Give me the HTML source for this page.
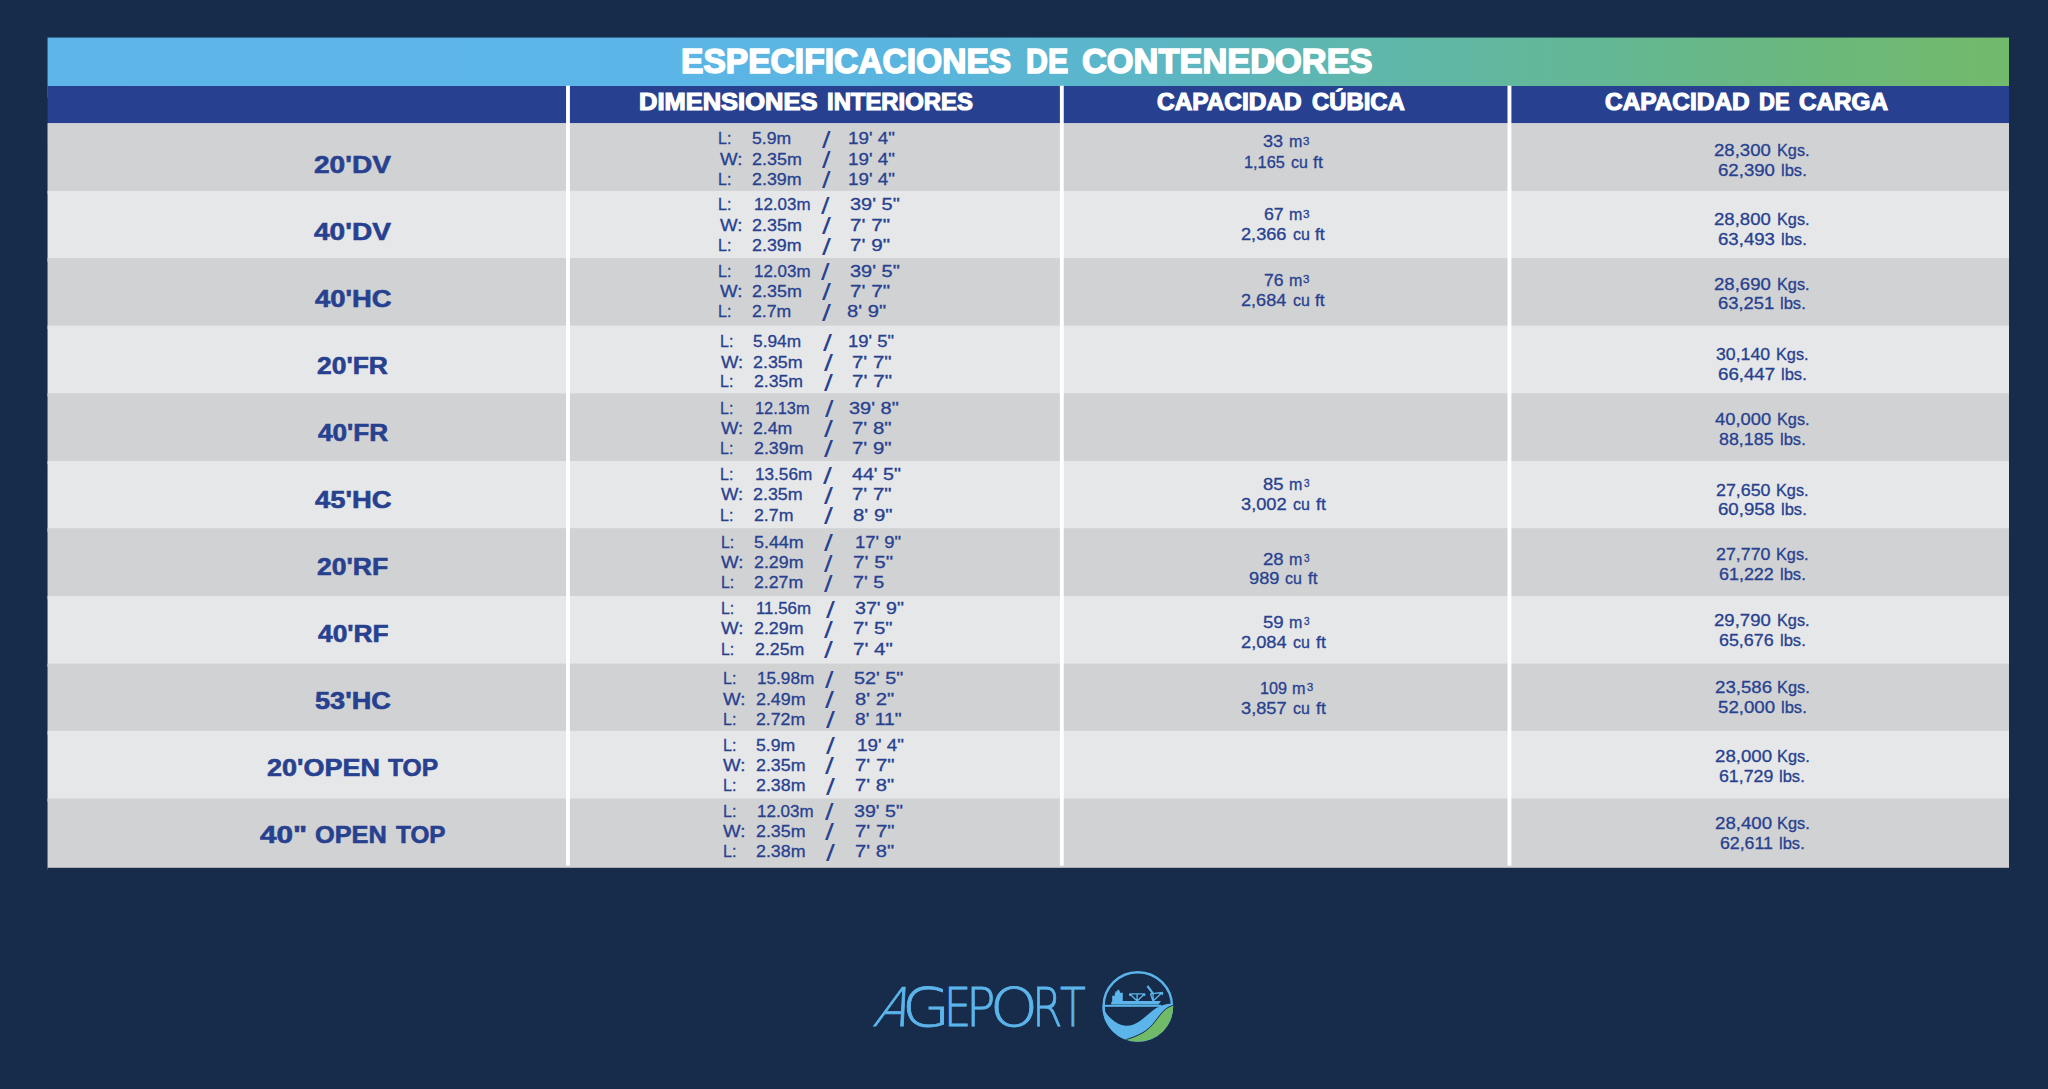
<!DOCTYPE html>
<html lang="es">
<head>
<meta charset="utf-8">
<title>Especificaciones de Contenedores - AGEPORT</title>
<style>
html,body{margin:0;padding:0;background:#172b4b;}
body{width:2048px;height:1089px;overflow:hidden;font-family:"Liberation Sans",sans-serif;}
#stage{position:relative;width:2048px;height:1089px;background:#172b4b;overflow:hidden;}
#tbl{position:absolute;left:0;top:0;width:2048px;height:1089px;clip-path:polygon(47.55px 0,2009px 0,2009px 1089px,47.55px 1089px);}
.titlebar{position:absolute;left:47px;width:1962px;height:60px;
 background:linear-gradient(90deg,#5db5ea 0%,#5cb5e8 30%,#59b5de 44%,#5ab6d2 50%,#5db6bd 60%,#60b7a6 70%,#64b793 80%,#6bb87c 90%,#72ba6b 100%);}
.headbar{position:absolute;left:47px;width:1962px;height:60px;background:#274190;}
.row{position:absolute;left:47px;width:1962px;height:71px;}
.tblend{background:#172b4b;height:221px;}
.ra{background:#d1d2d4;}
.rb{background:#e6e7e8;}
.vline{position:absolute;top:85px;height:780px;background:#ffffff;transform-origin:0 0;}
#stage span{position:absolute;white-space:pre;line-height:1;transform-origin:0 0;display:block;}
.title{color:#ffffff;font-weight:bold;-webkit-text-stroke:1.6px #ffffff;}
.hd{color:#ffffff;font-weight:bold;-webkit-text-stroke:1.2px #ffffff;}
.lab{color:#28418f;font-weight:bold;-webkit-text-stroke:0.6px #28418f;}
.d,.sup{color:#28418f;-webkit-text-stroke:0.3px #28418f;}
.sl{color:#28418f;}
#logo{position:absolute;left:0;top:940px;}
.brand{position:absolute;white-space:nowrap;line-height:1;font-family:"DejaVu Sans","Liberation Sans",sans-serif;font-weight:200;color:#5cb5ea;-webkit-text-stroke:0.8px #5cb5ea;}
#stage .brand span{position:static;display:inline-block;transform-origin:0 0;white-space:pre;line-height:1;}
</style>
</head>
<body>
<div id="stage">
<div id="tbl">
<div class="titlebar" style="top:37px;transform:translateY(0.55px)"></div>
<div class="headbar" style="top:86px;transform:translateY(0.00px)"></div>
<div class="row ra" style="top:123px;transform:translateY(0.05px)"></div>
<div class="row rb" style="top:190px;transform:translateY(0.90px)"></div>
<div class="row ra" style="top:258px;transform:translateY(0.10px)"></div>
<div class="row rb" style="top:325px;transform:translateY(0.60px)"></div>
<div class="row ra" style="top:393px;transform:translateY(0.30px)"></div>
<div class="row rb" style="top:461px;transform:translateY(0.00px)"></div>
<div class="row ra" style="top:528px;transform:translateY(0.20px)"></div>
<div class="row rb" style="top:596px;transform:translateY(0.00px)"></div>
<div class="row ra" style="top:663px;transform:translateY(0.60px)"></div>
<div class="row rb" style="top:730px;transform:translateY(0.90px)"></div>
<div class="row ra" style="top:798px;transform:translateY(0.50px)"></div>
<div class="row tblend" style="top:867px;transform:translateY(0.80px)"></div>
</div>
<div class="vline" style="left:566px;width:4px;transform:translate(0.05px,0.7px) scaleX(0.9625)"></div>
<div class="vline" style="left:1059px;width:5px;transform:translate(0.90px,0.7px) scaleX(0.7700)"></div>
<div class="vline" style="left:1507px;width:5px;transform:translate(0.50px,0.7px) scaleX(0.7800)"></div>
<div class="grp"><span class="title" style="left:681.08px;top:43px;font-size:35.2px;transform:scaleX(0.9542)">ESPECIFICACIONES</span> <span class="title" style="left:1025.88px;top:43px;font-size:35.2px;transform:scaleX(0.8618)">DE</span> <span class="title" style="left:1082.02px;top:43px;font-size:35.2px;transform:scaleX(0.9777)">CONTENEDORES</span></div>
<div class="grp"><span class="hd" style="left:638.67px;top:90px;font-size:23.98px;transform:scaleX(1.0631)">DIMENSIONES</span> <span class="hd" style="left:827.07px;top:90px;font-size:23.98px;transform:scaleX(0.9956)">INTERIORES</span></div>
<div class="grp"><span class="hd" style="left:1157.06px;top:90px;font-size:23.98px;transform:scaleX(1.0185)">CAPACIDAD</span> <span class="hd" style="left:1312.09px;top:90px;font-size:23.98px;transform:scaleX(0.9958)">CÚBICA</span></div>
<div class="grp"><span class="hd" style="left:1604.82px;top:90px;font-size:23.98px;transform:scaleX(1.0187)">CAPACIDAD</span> <span class="hd" style="left:1759.12px;top:90px;font-size:23.98px;transform:scaleX(0.9172)">DE</span> <span class="hd" style="left:1799.03px;top:90px;font-size:23.98px;transform:scaleX(1.0124)">CARGA</span></div>
<span class="lab" style="left:314.44px;top:153px;font-size:23.98px;transform:scaleX(1.1708)">20'DV</span>
<span class="lab" style="left:314.12px;top:220px;font-size:23.98px;transform:scaleX(1.1706)">40'DV</span>
<span class="lab" style="left:314.59px;top:287px;font-size:23.98px;transform:scaleX(1.1423)">40'HC</span>
<span class="lab" style="left:317.06px;top:354px;font-size:23.98px;transform:scaleX(1.1019)">20'FR</span>
<span class="lab" style="left:317.74px;top:421px;font-size:23.98px;transform:scaleX(1.0908)">40'FR</span>
<span class="lab" style="left:314.58px;top:488px;font-size:23.98px;transform:scaleX(1.1424)">45'HC</span>
<span class="lab" style="left:317.04px;top:555px;font-size:23.98px;transform:scaleX(1.1052)">20'RF</span>
<span class="lab" style="left:317.74px;top:622px;font-size:23.98px;transform:scaleX(1.0985)">40'RF</span>
<span class="lab" style="left:314.88px;top:689px;font-size:23.98px;transform:scaleX(1.1329)">53'HC</span>
<div class="grp"><span class="lab" style="left:267.18px;top:756px;font-size:23.98px;transform:scaleX(1.1255)">20'OPEN</span> <span class="lab" style="left:388.25px;top:756px;font-size:23.98px;transform:scaleX(1.0291)">TOP</span></div>
<div class="grp"><span class="lab" style="left:260.30px;top:823px;font-size:23.98px;transform:scaleX(1.2409)">40"</span> <span class="lab" style="left:315.39px;top:823px;font-size:23.98px;transform:scaleX(1.0563)">OPEN</span> <span class="lab" style="left:395.66px;top:823px;font-size:23.98px;transform:scaleX(1.0130)">TOP</span></div>
<div class="grp"><span class="d" style="left:718.29px;top:130px;font-size:16.42px;transform:scaleX(0.9748)">L:</span> <span class="d" style="left:752.04px;top:130px;font-size:16.42px;transform:scaleX(1.0732)">5.9m</span> <span class="sl" style="left:822.13px;top:129px;font-size:23.03px;transform:scaleX(1.3337)">/</span> <span class="d" style="left:847.64px;top:130px;font-size:16.42px;transform:scaleX(1.1453)">19' 4"</span></div>
<div class="grp"><span class="d" style="left:719.63px;top:151px;font-size:16.42px;transform:scaleX(1.1375)">W:</span> <span class="d" style="left:751.59px;top:151px;font-size:16.42px;transform:scaleX(1.0941)">2.35m</span> <span class="sl" style="left:821.75px;top:149px;font-size:23.03px;transform:scaleX(1.3337)">/</span> <span class="d" style="left:847.64px;top:151px;font-size:16.42px;transform:scaleX(1.1453)">19' 4"</span></div>
<div class="grp"><span class="d" style="left:718.29px;top:171px;font-size:16.42px;transform:scaleX(0.9748)">L:</span> <span class="d" style="left:751.85px;top:171px;font-size:16.42px;transform:scaleX(1.0882)">2.39m</span> <span class="sl" style="left:822.13px;top:169px;font-size:23.03px;transform:scaleX(1.3337)">/</span> <span class="d" style="left:847.64px;top:171px;font-size:16.42px;transform:scaleX(1.1453)">19' 4"</span></div>
<div class="grp"><span class="d" style="left:718.29px;top:196px;font-size:16.42px;transform:scaleX(0.9752)">L:</span> <span class="d" style="left:753.87px;top:196px;font-size:16.42px;transform:scaleX(1.0331)">12.03m</span> <span class="sl" style="left:821.11px;top:195px;font-size:23.03px;transform:scaleX(1.3337)">/</span> <span class="d" style="left:850.22px;top:196px;font-size:16.42px;transform:scaleX(1.2180)">39' 5"</span></div>
<div class="grp"><span class="d" style="left:719.64px;top:217px;font-size:16.42px;transform:scaleX(1.1375)">W:</span> <span class="d" style="left:751.59px;top:217px;font-size:16.42px;transform:scaleX(1.0941)">2.35m</span> <span class="sl" style="left:821.94px;top:215px;font-size:23.03px;transform:scaleX(1.3968)">/</span> <span class="d" style="left:850.43px;top:217px;font-size:16.42px;transform:scaleX(1.2588)">7' 7"</span></div>
<div class="grp"><span class="d" style="left:718.29px;top:237px;font-size:16.42px;transform:scaleX(0.9752)">L:</span> <span class="d" style="left:751.85px;top:237px;font-size:16.42px;transform:scaleX(1.0882)">2.39m</span> <span class="sl" style="left:821.94px;top:236px;font-size:23.03px;transform:scaleX(1.3968)">/</span> <span class="d" style="left:850.43px;top:237px;font-size:16.42px;transform:scaleX(1.2588)">7' 9"</span></div>
<div class="grp"><span class="d" style="left:718.29px;top:263px;font-size:16.42px;transform:scaleX(0.9748)">L:</span> <span class="d" style="left:753.87px;top:263px;font-size:16.42px;transform:scaleX(1.0331)">12.03m</span> <span class="sl" style="left:821.11px;top:261px;font-size:23.03px;transform:scaleX(1.3337)">/</span> <span class="d" style="left:850.22px;top:263px;font-size:16.42px;transform:scaleX(1.2180)">39' 5"</span></div>
<div class="grp"><span class="d" style="left:719.63px;top:283px;font-size:16.42px;transform:scaleX(1.1375)">W:</span> <span class="d" style="left:751.59px;top:283px;font-size:16.42px;transform:scaleX(1.0941)">2.35m</span> <span class="sl" style="left:821.94px;top:281px;font-size:23.03px;transform:scaleX(1.3962)">/</span> <span class="d" style="left:850.43px;top:283px;font-size:16.42px;transform:scaleX(1.2588)">7' 7"</span></div>
<div class="grp"><span class="d" style="left:718.29px;top:303px;font-size:16.42px;transform:scaleX(0.9748)">L:</span> <span class="d" style="left:751.86px;top:303px;font-size:16.42px;transform:scaleX(1.0783)">2.7m</span> <span class="sl" style="left:821.94px;top:302px;font-size:23.03px;transform:scaleX(1.3962)">/</span> <span class="d" style="left:846.80px;top:303px;font-size:16.42px;transform:scaleX(1.2310)">8' 9"</span></div>
<div class="grp"><span class="d" style="left:720.10px;top:333px;font-size:16.42px;transform:scaleX(0.9752)">L:</span> <span class="d" style="left:753.34px;top:333px;font-size:16.42px;transform:scaleX(1.0549)">5.94m</span> <span class="sl" style="left:822.55px;top:332px;font-size:23.03px;transform:scaleX(1.3993)">/</span> <span class="d" style="left:848.24px;top:333px;font-size:16.42px;transform:scaleX(1.1236)">19' 5"</span></div>
<div class="grp"><span class="d" style="left:721.00px;top:354px;font-size:16.42px;transform:scaleX(1.1244)">W:</span> <span class="d" style="left:753.14px;top:354px;font-size:16.42px;transform:scaleX(1.0882)">2.35m</span> <span class="sl" style="left:823.67px;top:352px;font-size:23.03px;transform:scaleX(1.3993)">/</span> <span class="d" style="left:852.11px;top:354px;font-size:16.42px;transform:scaleX(1.2461)">7' 7"</span></div>
<div class="grp"><span class="d" style="left:720.10px;top:373px;font-size:16.42px;transform:scaleX(0.9752)">L:</span> <span class="d" style="left:753.76px;top:373px;font-size:16.42px;transform:scaleX(1.0759)">2.35m</span> <span class="sl" style="left:824.44px;top:372px;font-size:23.03px;transform:scaleX(1.3876)">/</span> <span class="d" style="left:852.36px;top:373px;font-size:16.42px;transform:scaleX(1.2588)">7' 7"</span></div>
<div class="grp"><span class="d" style="left:720.10px;top:400px;font-size:16.42px;transform:scaleX(0.9748)">L:</span> <span class="d" style="left:755.20px;top:400px;font-size:16.42px;transform:scaleX(0.9965)">12.13m</span> <span class="sl" style="left:824.96px;top:398px;font-size:23.03px;transform:scaleX(1.3337)">/</span> <span class="d" style="left:848.93px;top:400px;font-size:16.42px;transform:scaleX(1.2180)">39' 8"</span></div>
<div class="grp"><span class="d" style="left:721.00px;top:420px;font-size:16.42px;transform:scaleX(1.1244)">W:</span> <span class="d" style="left:753.15px;top:420px;font-size:16.42px;transform:scaleX(1.0783)">2.4m</span> <span class="sl" style="left:823.67px;top:418px;font-size:23.03px;transform:scaleX(1.3981)">/</span> <span class="d" style="left:852.11px;top:420px;font-size:16.42px;transform:scaleX(1.2461)">7' 8"</span></div>
<div class="grp"><span class="d" style="left:720.10px;top:440px;font-size:16.42px;transform:scaleX(0.9748)">L:</span> <span class="d" style="left:753.73px;top:440px;font-size:16.42px;transform:scaleX(1.0852)">2.39m</span> <span class="sl" style="left:823.67px;top:438px;font-size:23.03px;transform:scaleX(1.3981)">/</span> <span class="d" style="left:852.11px;top:440px;font-size:16.42px;transform:scaleX(1.2461)">7' 9"</span></div>
<div class="grp"><span class="d" style="left:720.10px;top:466px;font-size:16.42px;transform:scaleX(0.9752)">L:</span> <span class="d" style="left:755.14px;top:466px;font-size:16.42px;transform:scaleX(1.0454)">13.56m</span> <span class="sl" style="left:822.55px;top:465px;font-size:23.03px;transform:scaleX(1.3993)">/</span> <span class="d" style="left:852.35px;top:466px;font-size:16.42px;transform:scaleX(1.1969)">44' 5"</span></div>
<div class="grp"><span class="d" style="left:721.00px;top:486px;font-size:16.42px;transform:scaleX(1.1244)">W:</span> <span class="d" style="left:753.14px;top:486px;font-size:16.42px;transform:scaleX(1.0882)">2.35m</span> <span class="sl" style="left:823.67px;top:485px;font-size:23.03px;transform:scaleX(1.3993)">/</span> <span class="d" style="left:852.11px;top:486px;font-size:16.42px;transform:scaleX(1.2461)">7' 7"</span></div>
<div class="grp"><span class="d" style="left:720.10px;top:507px;font-size:16.42px;transform:scaleX(0.9752)">L:</span> <span class="d" style="left:753.73px;top:507px;font-size:16.42px;transform:scaleX(1.0815)">2.7m</span> <span class="sl" style="left:823.67px;top:505px;font-size:23.03px;transform:scaleX(1.3993)">/</span> <span class="d" style="left:852.83px;top:507px;font-size:16.42px;transform:scaleX(1.2436)">8' 9"</span></div>
<div class="grp"><span class="d" style="left:720.75px;top:534px;font-size:16.42px;transform:scaleX(0.9691)">L:</span> <span class="d" style="left:754.34px;top:534px;font-size:16.42px;transform:scaleX(1.0900)">5.44m</span> <span class="sl" style="left:824.44px;top:532px;font-size:23.03px;transform:scaleX(1.3873)">/</span> <span class="d" style="left:855.31px;top:534px;font-size:16.42px;transform:scaleX(1.1236)">17' 9"</span></div>
<div class="grp"><span class="d" style="left:721.34px;top:554px;font-size:16.42px;transform:scaleX(1.1375)">W:</span> <span class="d" style="left:753.91px;top:554px;font-size:16.42px;transform:scaleX(1.0853)">2.29m</span> <span class="sl" style="left:823.93px;top:553px;font-size:23.03px;transform:scaleX(1.3337)">/</span> <span class="d" style="left:852.61px;top:554px;font-size:16.42px;transform:scaleX(1.2588)">7' 5"</span></div>
<div class="grp"><span class="d" style="left:720.75px;top:574px;font-size:16.42px;transform:scaleX(0.9691)">L:</span> <span class="d" style="left:754.17px;top:574px;font-size:16.42px;transform:scaleX(1.0794)">2.27m</span> <span class="sl" style="left:823.93px;top:573px;font-size:23.03px;transform:scaleX(1.3337)">/</span> <span class="d" style="left:852.65px;top:574px;font-size:16.42px;transform:scaleX(1.2079)">7' 5</span></div>
<div class="grp"><span class="d" style="left:720.75px;top:600px;font-size:16.42px;transform:scaleX(0.9691)">L:</span> <span class="d" style="left:755.81px;top:600px;font-size:16.42px;transform:scaleX(1.0276)">11.56m</span> <span class="sl" style="left:826.31px;top:599px;font-size:23.03px;transform:scaleX(1.3876)">/</span> <span class="d" style="left:855.44px;top:600px;font-size:16.42px;transform:scaleX(1.1962)">37' 9"</span></div>
<div class="grp"><span class="d" style="left:721.34px;top:620px;font-size:16.42px;transform:scaleX(1.1375)">W:</span> <span class="d" style="left:753.91px;top:620px;font-size:16.42px;transform:scaleX(1.0853)">2.29m</span> <span class="sl" style="left:824.44px;top:619px;font-size:23.03px;transform:scaleX(1.3876)">/</span> <span class="d" style="left:853.01px;top:620px;font-size:16.42px;transform:scaleX(1.2461)">7' 5"</span></div>
<div class="grp"><span class="d" style="left:720.75px;top:641px;font-size:16.42px;transform:scaleX(0.9691)">L:</span> <span class="d" style="left:754.81px;top:641px;font-size:16.42px;transform:scaleX(1.0832)">2.25m</span> <span class="sl" style="left:824.44px;top:639px;font-size:23.03px;transform:scaleX(1.3876)">/</span> <span class="d" style="left:853.21px;top:641px;font-size:16.42px;transform:scaleX(1.2532)">7' 4"</span></div>
<div class="grp"><span class="d" style="left:722.60px;top:670px;font-size:16.42px;transform:scaleX(0.9838)">L:</span> <span class="d" style="left:757.07px;top:670px;font-size:16.42px;transform:scaleX(1.0454)">15.98m</span> <span class="sl" style="left:824.96px;top:669px;font-size:23.03px;transform:scaleX(1.3337)">/</span> <span class="d" style="left:853.88px;top:670px;font-size:16.42px;transform:scaleX(1.2068)">52' 5"</span></div>
<div class="grp"><span class="d" style="left:723.03px;top:691px;font-size:16.42px;transform:scaleX(1.1373)">W:</span> <span class="d" style="left:755.63px;top:691px;font-size:16.42px;transform:scaleX(1.0870)">2.49m</span> <span class="sl" style="left:825.48px;top:689px;font-size:23.03px;transform:scaleX(1.3962)">/</span> <span class="d" style="left:855.15px;top:691px;font-size:16.42px;transform:scaleX(1.2310)">8' 2"</span></div>
<div class="grp"><span class="d" style="left:722.60px;top:711px;font-size:16.42px;transform:scaleX(0.9838)">L:</span> <span class="d" style="left:755.84px;top:711px;font-size:16.42px;transform:scaleX(1.0794)">2.72m</span> <span class="sl" style="left:826.31px;top:709px;font-size:23.03px;transform:scaleX(1.3873)">/</span> <span class="d" style="left:855.30px;top:711px;font-size:16.42px;transform:scaleX(1.1741)">8' 11"</span></div>
<div class="grp"><span class="d" style="left:722.59px;top:737px;font-size:16.42px;transform:scaleX(0.9844)">L:</span> <span class="d" style="left:756.02px;top:737px;font-size:16.42px;transform:scaleX(1.0769)">5.9m</span> <span class="sl" style="left:826.31px;top:735px;font-size:23.03px;transform:scaleX(1.3876)">/</span> <span class="d" style="left:856.62px;top:737px;font-size:16.42px;transform:scaleX(1.1456)">19' 4"</span></div>
<div class="grp"><span class="d" style="left:723.03px;top:757px;font-size:16.42px;transform:scaleX(1.1372)">W:</span> <span class="d" style="left:755.63px;top:757px;font-size:16.42px;transform:scaleX(1.0871)">2.35m</span> <span class="sl" style="left:825.47px;top:755px;font-size:23.03px;transform:scaleX(1.3968)">/</span> <span class="d" style="left:854.68px;top:757px;font-size:16.42px;transform:scaleX(1.2461)">7' 7"</span></div>
<div class="grp"><span class="d" style="left:722.59px;top:777px;font-size:16.42px;transform:scaleX(0.9844)">L:</span> <span class="d" style="left:755.84px;top:777px;font-size:16.42px;transform:scaleX(1.0853)">2.38m</span> <span class="sl" style="left:826.31px;top:776px;font-size:23.03px;transform:scaleX(1.3876)">/</span> <span class="d" style="left:855.21px;top:777px;font-size:16.42px;transform:scaleX(1.2292)">7' 8"</span></div>
<div class="grp"><span class="d" style="left:722.60px;top:803px;font-size:16.42px;transform:scaleX(0.9838)">L:</span> <span class="d" style="left:757.34px;top:803px;font-size:16.42px;transform:scaleX(1.0356)">12.03m</span> <span class="sl" style="left:824.96px;top:801px;font-size:23.03px;transform:scaleX(1.3337)">/</span> <span class="d" style="left:854.34px;top:803px;font-size:16.42px;transform:scaleX(1.1954)">39' 5"</span></div>
<div class="grp"><span class="d" style="left:723.03px;top:823px;font-size:16.42px;transform:scaleX(1.1373)">W:</span> <span class="d" style="left:755.63px;top:823px;font-size:16.42px;transform:scaleX(1.0870)">2.35m</span> <span class="sl" style="left:825.48px;top:821px;font-size:23.03px;transform:scaleX(1.3962)">/</span> <span class="d" style="left:854.68px;top:823px;font-size:16.42px;transform:scaleX(1.2461)">7' 7"</span></div>
<div class="grp"><span class="d" style="left:722.60px;top:843px;font-size:16.42px;transform:scaleX(0.9838)">L:</span> <span class="d" style="left:755.84px;top:843px;font-size:16.42px;transform:scaleX(1.0853)">2.38m</span> <span class="sl" style="left:826.31px;top:842px;font-size:23.03px;transform:scaleX(1.3873)">/</span> <span class="d" style="left:855.21px;top:843px;font-size:16.42px;transform:scaleX(1.2292)">7' 8"</span></div>
<div class="grp"><span class="d" style="left:1263.27px;top:133px;font-size:16.42px;transform:scaleX(1.1045)">33</span> <span class="d" style="left:1289.09px;top:133px;font-size:16.42px;transform:scaleX(0.9779)">m</span><span class="sup" style="left:1303.10px;top:136px;font-size:10.95px;transform:scaleX(1.0539)">3</span></div>
<div class="grp"><span class="d" style="left:1243.81px;top:154px;font-size:16.42px;transform:scaleX(0.9937)">1,165</span> <span class="d" style="left:1290.71px;top:154px;font-size:16.42px;transform:scaleX(0.9744)">cu</span> <span class="d" style="left:1313.11px;top:154px;font-size:16.42px;transform:scaleX(1.0732)">ft</span></div>
<div class="grp"><span class="d" style="left:1263.86px;top:206px;font-size:16.42px;transform:scaleX(1.0788)">67</span> <span class="d" style="left:1289.09px;top:206px;font-size:16.42px;transform:scaleX(0.9779)">m</span><span class="sup" style="left:1303.08px;top:209px;font-size:10.95px;transform:scaleX(1.0715)">3</span></div>
<div class="grp"><span class="d" style="left:1241.14px;top:226px;font-size:16.42px;transform:scaleX(1.1065)">2,366</span> <span class="d" style="left:1292.61px;top:226px;font-size:16.42px;transform:scaleX(0.9744)">cu</span> <span class="d" style="left:1315.03px;top:226px;font-size:16.42px;transform:scaleX(1.0594)">ft</span></div>
<div class="grp"><span class="d" style="left:1263.87px;top:272px;font-size:16.42px;transform:scaleX(1.0683)">76</span> <span class="d" style="left:1289.09px;top:272px;font-size:16.42px;transform:scaleX(0.9779)">m</span><span class="sup" style="left:1303.10px;top:274px;font-size:10.95px;transform:scaleX(1.0539)">3</span></div>
<div class="grp"><span class="d" style="left:1241.15px;top:292px;font-size:16.42px;transform:scaleX(1.1019)">2,684</span> <span class="d" style="left:1292.61px;top:292px;font-size:16.42px;transform:scaleX(0.9744)">cu</span> <span class="d" style="left:1315.03px;top:292px;font-size:16.42px;transform:scaleX(1.0599)">ft</span></div>
<div class="grp"><span class="d" style="left:1263.21px;top:476px;font-size:16.42px;transform:scaleX(1.1226)">85</span> <span class="d" style="left:1289.39px;top:476px;font-size:16.42px;transform:scaleX(0.9779)">m</span><span class="sup" style="left:1303.95px;top:478px;font-size:10.95px;transform:scaleX(0.9132)">3</span></div>
<div class="grp"><span class="d" style="left:1241.30px;top:496px;font-size:16.42px;transform:scaleX(1.1120)">3,002</span> <span class="d" style="left:1292.81px;top:496px;font-size:16.42px;transform:scaleX(0.9744)">cu</span> <span class="d" style="left:1315.51px;top:496px;font-size:16.42px;transform:scaleX(1.0731)">ft</span></div>
<div class="grp"><span class="d" style="left:1263.02px;top:551px;font-size:16.42px;transform:scaleX(1.1336)">28</span> <span class="d" style="left:1289.39px;top:551px;font-size:16.42px;transform:scaleX(0.9779)">m</span><span class="sup" style="left:1303.95px;top:553px;font-size:10.95px;transform:scaleX(0.9132)">3</span></div>
<div class="grp"><span class="d" style="left:1248.82px;top:570px;font-size:16.42px;transform:scaleX(1.1123)">989</span> <span class="d" style="left:1285.11px;top:570px;font-size:16.42px;transform:scaleX(0.9744)">cu</span> <span class="d" style="left:1307.88px;top:570px;font-size:16.42px;transform:scaleX(1.0339)">ft</span></div>
<div class="grp"><span class="d" style="left:1263.21px;top:614px;font-size:16.42px;transform:scaleX(1.1336)">59</span> <span class="d" style="left:1289.39px;top:614px;font-size:16.42px;transform:scaleX(0.9779)">m</span><span class="sup" style="left:1303.95px;top:616px;font-size:10.95px;transform:scaleX(0.9132)">3</span></div>
<div class="grp"><span class="d" style="left:1240.94px;top:634px;font-size:16.42px;transform:scaleX(1.1120)">2,084</span> <span class="d" style="left:1292.81px;top:634px;font-size:16.42px;transform:scaleX(0.9744)">cu</span> <span class="d" style="left:1315.51px;top:634px;font-size:16.42px;transform:scaleX(1.0731)">ft</span></div>
<div class="grp"><span class="d" style="left:1259.92px;top:680px;font-size:16.42px;transform:scaleX(0.9847)">109</span> <span class="d" style="left:1292.18px;top:680px;font-size:16.42px;transform:scaleX(0.9905)">m</span><span class="sup" style="left:1306.85px;top:682px;font-size:10.95px;transform:scaleX(1.0225)">3</span></div>
<div class="grp"><span class="d" style="left:1241.30px;top:700px;font-size:16.42px;transform:scaleX(1.1120)">3,857</span> <span class="d" style="left:1292.81px;top:700px;font-size:16.42px;transform:scaleX(0.9744)">cu</span> <span class="d" style="left:1315.52px;top:700px;font-size:16.42px;transform:scaleX(1.0732)">ft</span></div>
<div class="grp"><span class="d" style="left:1714.44px;top:142px;font-size:16.42px;transform:scaleX(1.1316)">28,300</span> <span class="d" style="left:1776.75px;top:142px;font-size:16.42px;transform:scaleX(0.9933)">Kgs.</span></div>
<div class="grp"><span class="d" style="left:1717.82px;top:162px;font-size:16.42px;transform:scaleX(1.1351)">62,390</span> <span class="d" style="left:1780.76px;top:162px;font-size:16.42px;transform:scaleX(1.0076)">lbs.</span></div>
<div class="grp"><span class="d" style="left:1714.45px;top:211px;font-size:16.42px;transform:scaleX(1.1318)">28,800</span> <span class="d" style="left:1776.75px;top:211px;font-size:16.42px;transform:scaleX(0.9933)">Kgs.</span></div>
<div class="grp"><span class="d" style="left:1717.82px;top:231px;font-size:16.42px;transform:scaleX(1.1351)">63,493</span> <span class="d" style="left:1780.76px;top:231px;font-size:16.42px;transform:scaleX(1.0076)">lbs.</span></div>
<div class="grp"><span class="d" style="left:1714.44px;top:276px;font-size:16.42px;transform:scaleX(1.1316)">28,690</span> <span class="d" style="left:1776.75px;top:276px;font-size:16.42px;transform:scaleX(0.9933)">Kgs.</span></div>
<div class="grp"><span class="d" style="left:1718.33px;top:295px;font-size:16.42px;transform:scaleX(1.1183)">63,251</span> <span class="d" style="left:1780.26px;top:295px;font-size:16.42px;transform:scaleX(1.0076)">lbs.</span></div>
<div class="grp"><span class="d" style="left:1716.12px;top:346px;font-size:16.42px;transform:scaleX(1.0786)">30,140</span> <span class="d" style="left:1775.95px;top:346px;font-size:16.42px;transform:scaleX(0.9933)">Kgs.</span></div>
<div class="grp"><span class="d" style="left:1717.81px;top:366px;font-size:16.42px;transform:scaleX(1.1389)">66,447</span> <span class="d" style="left:1780.76px;top:366px;font-size:16.42px;transform:scaleX(1.0076)">lbs.</span></div>
<div class="grp"><span class="d" style="left:1714.98px;top:411px;font-size:16.42px;transform:scaleX(1.1176)">40,000</span> <span class="d" style="left:1776.75px;top:411px;font-size:16.42px;transform:scaleX(0.9933)">Kgs.</span></div>
<div class="grp"><span class="d" style="left:1719.15px;top:431px;font-size:16.42px;transform:scaleX(1.0870)">88,185</span> <span class="d" style="left:1779.76px;top:431px;font-size:16.42px;transform:scaleX(1.0076)">lbs.</span></div>
<div class="grp"><span class="d" style="left:1715.76px;top:482px;font-size:16.42px;transform:scaleX(1.0859)">27,650</span> <span class="d" style="left:1775.95px;top:482px;font-size:16.42px;transform:scaleX(0.9933)">Kgs.</span></div>
<div class="grp"><span class="d" style="left:1717.82px;top:501px;font-size:16.42px;transform:scaleX(1.1351)">60,958</span> <span class="d" style="left:1780.76px;top:501px;font-size:16.42px;transform:scaleX(1.0076)">lbs.</span></div>
<div class="grp"><span class="d" style="left:1715.76px;top:546px;font-size:16.42px;transform:scaleX(1.0859)">27,770</span> <span class="d" style="left:1775.95px;top:546px;font-size:16.42px;transform:scaleX(0.9933)">Kgs.</span></div>
<div class="grp"><span class="d" style="left:1719.15px;top:566px;font-size:16.42px;transform:scaleX(1.0916)">61,222</span> <span class="d" style="left:1779.76px;top:566px;font-size:16.42px;transform:scaleX(1.0076)">lbs.</span></div>
<div class="grp"><span class="d" style="left:1714.45px;top:612px;font-size:16.42px;transform:scaleX(1.1318)">29,790</span> <span class="d" style="left:1776.75px;top:612px;font-size:16.42px;transform:scaleX(0.9933)">Kgs.</span></div>
<div class="grp"><span class="d" style="left:1719.16px;top:632px;font-size:16.42px;transform:scaleX(1.0879)">65,676</span> <span class="d" style="left:1779.76px;top:632px;font-size:16.42px;transform:scaleX(1.0076)">lbs.</span></div>
<div class="grp"><span class="d" style="left:1714.62px;top:679px;font-size:16.42px;transform:scaleX(1.1371)">23,586</span> <span class="d" style="left:1777.33px;top:679px;font-size:16.42px;transform:scaleX(0.9958)">Kgs.</span></div>
<div class="grp"><span class="d" style="left:1717.80px;top:699px;font-size:16.42px;transform:scaleX(1.1374)">52,000</span> <span class="d" style="left:1780.86px;top:699px;font-size:16.42px;transform:scaleX(1.0076)">lbs.</span></div>
<div class="grp"><span class="d" style="left:1714.62px;top:748px;font-size:16.42px;transform:scaleX(1.1371)">28,000</span> <span class="d" style="left:1777.33px;top:748px;font-size:16.42px;transform:scaleX(0.9960)">Kgs.</span></div>
<div class="grp"><span class="d" style="left:1719.06px;top:768px;font-size:16.42px;transform:scaleX(1.0813)">61,729</span> <span class="d" style="left:1779.16px;top:768px;font-size:16.42px;transform:scaleX(1.0076)">lbs.</span></div>
<div class="grp"><span class="d" style="left:1714.62px;top:815px;font-size:16.42px;transform:scaleX(1.1371)">28,400</span> <span class="d" style="left:1777.33px;top:815px;font-size:16.42px;transform:scaleX(0.9958)">Kgs.</span></div>
<div class="grp"><span class="d" style="left:1720.06px;top:835px;font-size:16.42px;transform:scaleX(1.0796)">62,611</span> <span class="d" style="left:1778.76px;top:835px;font-size:16.42px;transform:scaleX(1.0076)">lbs.</span></div>
<div class="brand" style="left:872.04px;top:981px;font-size:53.4px"><span style="width:30.29px;transform:skewX(-21.5deg) scaleX(0.9012);transform-origin:0 45px">A</span><span style="width:42.01px;transform:scaleX(1.1649)">G</span><span style="width:21.50px;transform:scaleX(0.8057)">E</span><span style="width:24.58px;transform:scaleX(0.9146)">P</span><span style="width:42.00px;transform:scaleX(1.1414)">O</span><span style="width:27.73px;transform:scaleX(0.8233)">R</span><span style="width:30.00px;transform:scaleX(0.7885)">T</span></div>
<svg id="logo" width="2048" height="149" viewBox="0 940 2048 149" role="img" aria-label="AGEPORT">
<defs><clipPath id="disc"><circle cx="1137.8" cy="1006.4" r="35.4"/></clipPath></defs>
<g id="emblem">
<circle cx="1137.8" cy="1006.4" r="34.2" fill="none" stroke="#5cb5ea" stroke-width="2.4"/>
<g clip-path="url(#disc)">
<path d="M1125.5,1039.6 C1131,1038.2 1137,1036 1142.9,1032.7 C1148,1029.6 1152,1025.6 1155.3,1021.2 C1158.5,1017 1161.5,1012.8 1165.2,1009.6 C1167.5,1007.6 1170,1006.2 1173.5,1005.2 L1180,1005 L1180,1050 L1120,1050 Z" fill="#70ba68"/>
<path d="M1100,1005.8 L1102.6,1006.9 C1104,1010.2 1106.5,1014.5 1111.5,1019.1 C1115.5,1022.6 1120,1025.3 1125.5,1025.7 C1131,1026 1135.5,1024 1139.6,1021.2 C1144,1018.2 1148.5,1013.8 1152.8,1010.4 C1157,1007.2 1161,1005.3 1166,1004.3 C1168.5,1003.8 1171,1003.6 1174,1003.6 L1174,1004.9 C1170,1005.9 1167.5,1007.3 1165.2,1009.3 C1161.5,1012.5 1158.5,1016.7 1155.3,1020.9 C1152,1025.3 1148,1029.3 1142.9,1032.4 C1137,1035.7 1131,1037.9 1125.5,1039.3 L1120,1041 L1100,1045 Z" fill="#5cb5ea"/>
<path d="M1124,1040.2 C1131,1038.2 1137,1036 1142.9,1032.7 C1148,1029.6 1152,1025.6 1155.3,1021.2 C1158.5,1017 1161.5,1012.8 1165.2,1009.6 C1167.5,1007.6 1170,1006.2 1174,1005.1" fill="none" stroke="#172b4b" stroke-width="0.9"/>
</g>
<rect x="1103.2" y="1004.8" width="58" height="2" fill="#5cb5ea"/>
<path d="M1111.3,1004.4 L1111.1,1003 L1112.2,1001 L1112.2,995.8 L1114.8,995.8 L1114.8,992.8 L1115.6,992.8 L1115.6,991.3 L1117.4,991.3 L1117.4,989.8 L1119.3,989.8 L1119.3,991.3 L1120,991.3 L1120,992.8 L1122.8,992.8 L1122.8,1001 L1160.9,1001 L1158.6,1004.4 Z" fill="#5cb5ea"/>
<path d="M1129.3,993.9 L1145.1,993.9 M1129.9,994 L1136.6,1000.6 M1144.5,994 L1137.6,1000.6 M1137.1,994 L1137.1,1001.5 M1129.6,993.9 L1129.9,996 M1144.8,993.9 L1144.5,996" fill="none" stroke="#5cb5ea" stroke-width="1.35"/>
<path d="M1150.1,993.9 L1162.9,992.5 M1150.6,994 L1152.8,1000.6 M1162,992.7 L1153.6,1000.6 M1153.1,994 L1153.1,1001.5 M1162.6,992.5 L1162.3,995" fill="none" stroke="#5cb5ea" stroke-width="1.35"/>
<path d="M1147.4,986 L1152.9,993.4" fill="none" stroke="#5cb5ea" stroke-width="2.1"/>
</g>
</svg>

</div>
</body>
</html>
